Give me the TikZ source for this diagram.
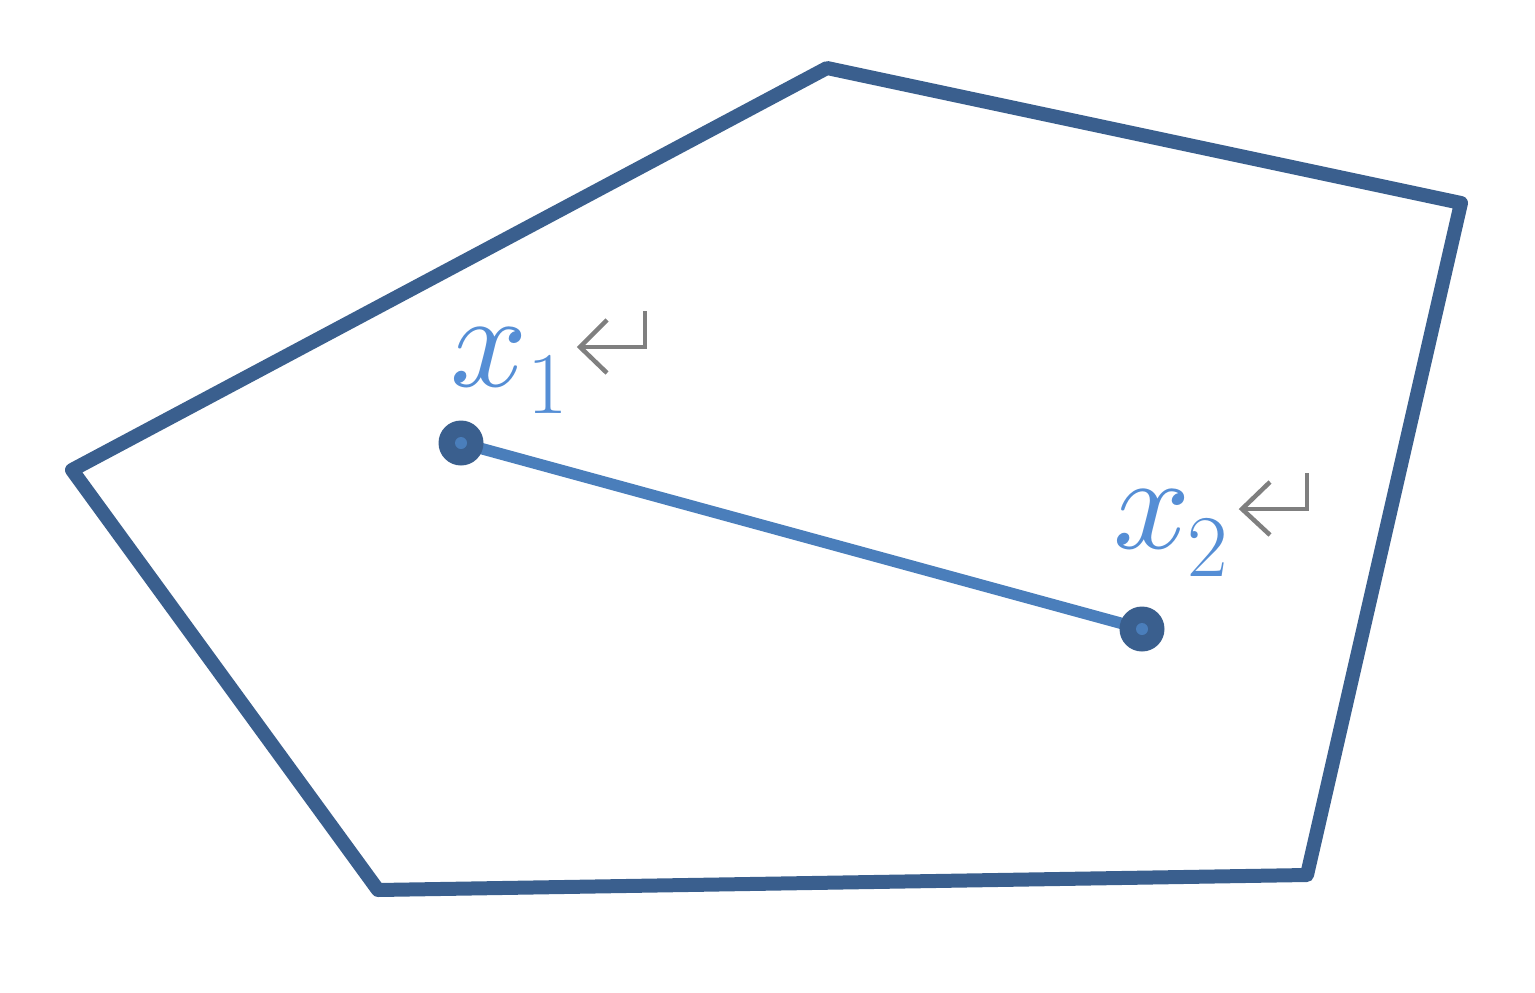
\documentclass[tikz,border=0pt]{standalone}
\usepackage{xcolor}
\DeclareFontFamily{OML}{cmm}{\skewchar\font127}
\DeclareFontShape{OML}{cmm}{m}{it}{<->cmmi10}{}
\definecolor{polyblue}{HTML}{3A5F8E}
\definecolor{segblue}{HTML}{4A7EBB}
\definecolor{txtblue}{HTML}{558ED5}
\definecolor{retgray}{HTML}{7F7F7F}
\tikzset{
  poly/.style={draw=polyblue, line width=14pt, line join=round, line cap=round},
  seg/.style={draw=segblue, line width=11.5pt},
  endpt/.style={circle, fill=polyblue, minimum size=45pt, inner sep=0pt},
  innerdot/.style={circle, fill=segblue, minimum size=12pt, inner sep=0pt},
  ret/.style={draw=retgray, line width=4.5pt},
  xlab/.style={text=txtblue, inner sep=0pt, anchor=base west, font=\fontsize{135}{135}\selectfont},
  sublab/.style={text=txtblue, inner sep=0pt, anchor=base west, font=\fontsize{88}{88}\selectfont},
}
\begin{document}
\begin{tikzpicture}[x=1pt, y=-1pt]
\useasboundingbox (0,0) rectangle (1535,993);
\coordinate (A) at (72,470);
\coordinate (B) at (827,68);
\coordinate (C) at (1461,203);
\coordinate (D) at (1307,875);
\coordinate (E) at (378,890);
\draw[poly] (A) -- (B) -- (C) -- (D) -- (E) -- cycle;
\coordinate (P1) at (461,443);
\coordinate (P2) at (1142,629);
\draw[seg] (P1) -- (P2);
\node[endpt] (n1) at (P1) {};
\node[innerdot] (d1) at (P1) {};
\node[endpt] (n2) at (P2) {};
\node[innerdot] (d2) at (P2) {};
% labels
\node[xlab] (x1) at (450,386) {$x$};
\node[sublab] (s1) at (527,413) {1};
\node[xlab] (x2) at (1113,548) {$x$};
\node[sublab] (s2) at (1187,576) {2};
% return marks
\coordinate (r1a) at (645,311);
\coordinate (r1b) at (645,347);
\coordinate (r1c) at (580,347);
\coordinate (r1u) at (607,320);
\coordinate (r1d) at (607,373);
\draw[ret] (r1a) -- (r1b) -- (r1c);
\draw[ret] (r1u) -- (r1c) -- (r1d);
\coordinate (r2a) at (1307,473);
\coordinate (r2b) at (1307,509);
\coordinate (r2c) at (1242,509);
\coordinate (r2u) at (1270,482);
\coordinate (r2d) at (1270,535);
\draw[ret] (r2a) -- (r2b) -- (r2c);
\draw[ret] (r2u) -- (r2c) -- (r2d);
\end{tikzpicture}
\end{document}
